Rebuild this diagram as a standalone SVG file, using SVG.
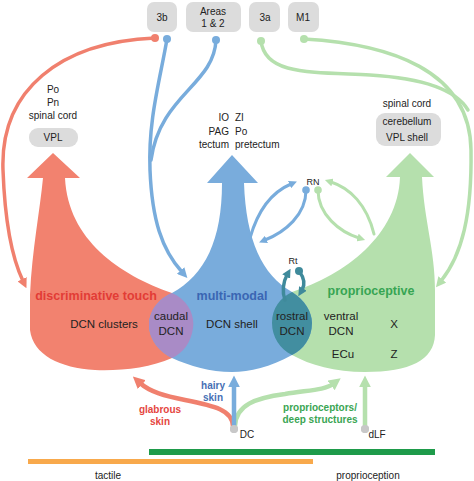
<svg xmlns="http://www.w3.org/2000/svg" width="474" height="481" viewBox="0 0 474 481">
<style>
text{font-family:"Liberation Sans",Arial,sans-serif;fill:#222;text-anchor:middle}
.s{font-size:10px}
.m{font-size:11.5px}
.big{font-size:12.5px;font-weight:bold}
.lab{font-size:10px;font-weight:bold}
.box{fill:#dcdcdc}
.ln{fill:none;stroke-width:3.5;stroke-linecap:round}
.thin{fill:none;stroke-width:3;stroke-linecap:round}
.thick{fill:none;stroke-width:4.5;stroke-linecap:round}
.r{stroke:#f0806e}.b{stroke:#78acdc}.g{stroke:#b5e0ad}.t{stroke:#3f8a9b}
</style>
<defs>
<marker id="ar" viewBox="0 0 10 10" refX="2" refY="5" markerWidth="10" markerHeight="10" markerUnits="userSpaceOnUse" orient="auto"><path d="M0,0 L10,5 L0,10 Z" fill="#f0806e"/></marker>
<marker id="ab" viewBox="0 0 10 10" refX="2" refY="5" markerWidth="10" markerHeight="10" markerUnits="userSpaceOnUse" orient="auto"><path d="M0,0 L10,5 L0,10 Z" fill="#78acdc"/></marker>
<marker id="ag" viewBox="0 0 10 10" refX="2" refY="5" markerWidth="10" markerHeight="10" markerUnits="userSpaceOnUse" orient="auto"><path d="M0,0 L10,5 L0,10 Z" fill="#b5e0ad"/></marker>
<marker id="at" viewBox="0 0 10 10" refX="2" refY="5" markerWidth="9" markerHeight="9" markerUnits="userSpaceOnUse" orient="auto"><path d="M0,0 L10,5 L0,10 Z" fill="#3f8a9b"/></marker>
<marker id="abs" viewBox="0 0 10 10" refX="2" refY="5" markerWidth="8" markerHeight="8" markerUnits="userSpaceOnUse" orient="auto"><path d="M0,0 L10,5 L0,10 Z" fill="#78acdc"/></marker>
<marker id="ags" viewBox="0 0 10 10" refX="2" refY="5" markerWidth="8" markerHeight="8" markerUnits="userSpaceOnUse" orient="auto"><path d="M0,0 L10,5 L0,10 Z" fill="#b5e0ad"/></marker>
<marker id="arB" viewBox="0 0 10 10" refX="2" refY="5" markerWidth="12" markerHeight="12" markerUnits="userSpaceOnUse" orient="auto"><path d="M0,0 L10,5 L0,10 Z" fill="#f0806e"/></marker>
<marker id="abB" viewBox="0 0 10 10" refX="2" refY="5" markerWidth="12" markerHeight="12" markerUnits="userSpaceOnUse" orient="auto"><path d="M0,0 L10,5 L0,10 Z" fill="#78acdc"/></marker>
<marker id="agB" viewBox="0 0 10 10" refX="2" refY="5" markerWidth="12" markerHeight="12" markerUnits="userSpaceOnUse" orient="auto"><path d="M0,0 L10,5 L0,10 Z" fill="#b5e0ad"/></marker>
<path id="redShape" d="M53,153 L80,178 L65,178 C 68,240 120,275 172,293 C 188,300 195,315 193,328 C 191,343 183,353 172,358 C 150,368 120,371 95,370 C 60,368 33,355 30,330 L30,295 C 32,250 40,210 43,178 L27,178 Z"/>
<path id="blueShape" d="M232,155 L258,183 L244,183 C 246,240 262,275 292,292 C 305,300 312,312 312,323 C 312,338 303,350 292,355 C 270,367 250,372 232,372 C 210,372 190,366 172,358 C 160,352 149,340 149,325 C 149,310 160,298 172,293 C 205,275 222,240 222,183 L207,183 Z"/>
<path id="greenShape" d="M410,153 L434,177 L422,177 C 424,220 435,250 435,290 L435,335 C 434,360 410,372 365,372 C 335,372 310,365 292,355 C 280,349 272,337 272,323 C 272,308 280,298 292,292 C 345,275 398,235 400,177 L386,177 Z"/>
<clipPath id="blueClip"><use href="#blueShape"/></clipPath>
</defs>

<g id="blob-discriminative">
<use href="#redShape" fill="#f2826f"/>
<text class="big" x="96" y="300" style="fill:#e23c36">discriminative touch</text>
<text class="m" x="104" y="328">DCN clusters</text>
</g>
<g id="blob-proprioceptive">
<use href="#greenShape" fill="#b5e0ad"/>
<text class="big" x="371" y="295" style="fill:#37a553">proprioceptive</text>
<text class="m" x="341" y="320">ventral</text>
<text class="m" x="341" y="335">DCN</text>
<text class="m" x="394" y="328">X</text>
<text class="m" x="343" y="358">ECu</text>
<text class="m" x="394" y="358">Z</text>
</g>
<g id="blob-multimodal">
<use href="#blueShape" fill="#79acdc"/>
<text class="big" x="232" y="300" style="fill:#3a66b3">multi-modal</text>
<text class="m" x="232" y="328">DCN shell</text>
</g>
<g id="caudal-dcn">
<use href="#redShape" fill="#a98bc6" clip-path="url(#blueClip)"/>
<text class="m" x="171" y="320">caudal</text>
<text class="m" x="171" y="335">DCN</text>
</g>
<g id="rostral-dcn">
<use href="#greenShape" fill="#428ea0" clip-path="url(#blueClip)"/>
<text class="m" x="292" y="320">rostral</text>
<text class="m" x="292" y="335">DCN</text>
</g>

<g id="node-3b"><rect class="box" x="147" y="2" width="30" height="30" rx="7"/><text class="s" x="162" y="21">3b</text></g>
<g id="node-areas12"><rect class="box" x="186" y="2" width="55" height="30" rx="7"/><text class="s" x="213" y="15">Areas</text><text class="s" x="213" y="27">1 &amp; 2</text></g>
<g id="node-3a"><rect class="box" x="249" y="2" width="31" height="30" rx="7"/><text class="s" x="265" y="21">3a</text></g>
<g id="node-M1"><rect class="box" x="288" y="2" width="31" height="30" rx="7"/><text class="s" x="303" y="21">M1</text></g>

<g id="node-left-targets">
<text class="s" x="53" y="93">Po</text>
<text class="s" x="53" y="106">Pn</text>
<text class="s" x="53" y="119">spinal cord</text>
<rect class="box" x="29" y="128" width="49" height="19" rx="9"/>
<text class="s" x="53" y="141">VPL</text>
</g>
<g id="node-center-targets">
<text class="s" x="229" y="121" style="text-anchor:end">IO</text>
<text class="s" x="235" y="121" style="text-anchor:start">ZI</text>
<text class="s" x="229" y="135" style="text-anchor:end">PAG</text>
<text class="s" x="235" y="135" style="text-anchor:start">Po</text>
<text class="s" x="229" y="148" style="text-anchor:end">tectum</text>
<text class="s" x="235" y="148" style="text-anchor:start">pretectum</text>
</g>
<g id="node-right-targets">
<text class="s" x="407" y="107">spinal cord</text>
<rect class="box" x="376" y="113" width="65" height="33" rx="9"/>
<text class="s" x="407" y="125">cerebellum</text>
<text class="s" x="407" y="141">VPL shell</text>
</g>
<g id="node-RN"><text x="313" y="185" style="font-size:9px">RN</text></g>
<g id="node-Rt"><text x="293" y="264" style="font-size:9px">Rt</text></g>
<g id="node-DC"><circle cx="234" cy="429" r="4" fill="#c8c8c8"/><text class="s" x="247" y="438">DC</text></g>
<g id="node-dLF"><circle cx="365" cy="429" r="4" fill="#c8c8c8"/><text class="s" x="377" y="438">dLF</text></g>

<g id="connectors">
<path class="ln r" d="M155,38 C 60,42 0,90 3,170 C 5,225 12,258 23,281" marker-end="url(#ar)"/>
<path class="ln b" d="M167,39 C 160,80 148,120 150,170 C 152,220 162,250 182,272" marker-end="url(#ab)"/>
<path class="ln b" d="M216,40 C 214,85 160,95 151,160"/>
<path class="ln g" d="M304,39 C 390,44 470,70 471,150 C 472,215 462,255 441,281" marker-end="url(#ag)"/>
<path class="ln g" d="M261,41 C 265,75 310,72 370,75 C 420,78 455,88 468,110"/>
<circle cx="155" cy="38" r="4" fill="#f0806e"/>
<circle cx="167" cy="39" r="4" fill="#78acdc"/>
<circle cx="216" cy="40" r="4" fill="#78acdc"/>
<circle cx="261" cy="41" r="4" fill="#b5e0ad"/>
<circle cx="304" cy="39" r="4" fill="#b5e0ad"/>

<path class="thin b" d="M250,238 C 258,210 272,192 291,184" marker-end="url(#abs)"/>
<path class="thin b" d="M306,190 C 306,215 285,232 265,240" marker-end="url(#abs)"/>
<path class="thin g" d="M318,190 C 318,215 340,232 359,238" marker-end="url(#ags)"/>
<path class="thin g" d="M374,234 C 367,205 350,188 331,182" marker-end="url(#ags)"/>
<circle cx="306" cy="190" r="3.8" fill="#78acdc"/>
<circle cx="318" cy="190" r="3.8" fill="#b5e0ad"/>

<path class="ln t" d="M285,300 C 282,292 283,282 287,275" marker-end="url(#at)"/>
<path class="ln t" d="M299,271 C 305,279 305,285 302,290" marker-end="url(#at)"/>
<circle cx="299" cy="271" r="4" fill="#3f8a9b"/>

<path class="thick r" d="M233,426 C 232,410 215,406 185,400 C 165,396 150,392 140,383" marker-end="url(#arB)"/>
<path class="thick g" d="M235,426 C 236,405 255,398 285,394 C 310,390 325,390 333,384" marker-end="url(#agB)"/>
<path class="thick b" d="M234,425 L234,385" marker-end="url(#abB)"/>
<path class="thick g" d="M365,425 L365,385" marker-end="url(#agB)"/>
<circle cx="234" cy="429" r="4" fill="#c8c8c8"/>
<circle cx="365" cy="429" r="4" fill="#c8c8c8"/>
</g>

<g id="pathway-labels">
<text class="lab" x="160" y="413" style="fill:#e5463f">glabrous</text>
<text class="lab" x="160" y="425" style="fill:#e5463f">skin</text>
<text class="lab" x="213" y="389" style="fill:#4670b5">hairy</text>
<text class="lab" x="213" y="401" style="fill:#4670b5">skin</text>
<text class="lab" x="320" y="411" style="fill:#3aa553">proprioceptors/</text>
<text class="lab" x="320" y="423" style="fill:#3aa553">deep structures</text>
</g>

<g id="legend">
<rect x="149" y="449" width="286" height="6" fill="#1e9b4a"/>
<rect x="28" y="459" width="285" height="5" fill="#f8a94c"/>
<text class="s" x="108" y="479">tactile</text>
<text class="s" x="368" y="479">proprioception</text>
</g>
</svg>
